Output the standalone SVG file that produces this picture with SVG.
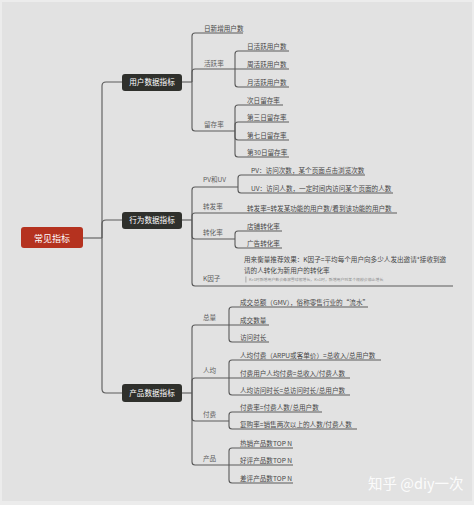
<svg xmlns="http://www.w3.org/2000/svg" width="474" height="505" viewBox="0 0 474 505">
<defs>
<style>
.ln{fill:none;stroke:#5a5a5a;stroke-width:1.1}
.t{font-family:"Noto Sans CJK SC","Noto Sans",sans-serif;font-size:6.6px;fill:#474747}
.g{font-family:"Noto Sans CJK SC","Noto Sans",sans-serif;font-size:6.6px;fill:#5e5e5e}
.bx{fill:#2f302c}
.bt{font-family:"Noto Sans CJK SC","Noto Sans",sans-serif;font-size:7.6px;fill:#ffffff;text-anchor:middle}
.note{font-family:"Noto Sans CJK SC","Noto Sans",sans-serif;font-size:3.9px;fill:#8a8a8a}
</style>
</defs>
<rect x="0" y="0" width="474" height="505" fill="#ececec"/>
<rect x="2" y="2" width="470" height="499" fill="#e2e2e2"/>

<g id="connectors">
<path class="ln" d="M83,238 H102"/>
<path class="ln" d="M102,238 V86 Q102,82 106,82 H122"/>
<path class="ln" d="M102,238 V224 Q102,220 106,220 H122"/>
<path class="ln" d="M102,238 V389 Q102,393 106,393 H122"/>
<!-- user -->
<path class="ln" d="M182,82 H192"/>
<path class="ln" d="M192,82 V36 Q192,33 195,33 H243"/>
<path class="ln" d="M192,82 V72 Q192,69 195,69 H235"/>
<path class="ln" d="M192,82 V128 Q192,131 195,131 H235"/>
<path class="ln" d="M235,69 V54 Q235,51 238,51 H289"/>
<path class="ln" d="M235,69 H289"/>
<path class="ln" d="M235,69 V84 Q235,87 238,87 H289"/>
<path class="ln" d="M235,131 V108 Q235,105 238,105 H283"/>
<path class="ln" d="M235,131 V125 Q235,122 238,122 H289"/>
<path class="ln" d="M235,131 V137 Q235,140 238,140 H289"/>
<path class="ln" d="M235,131 V154 Q235,157 238,157 H289"/>
<!-- behavior -->
<path class="ln" d="M182,220 H192"/>
<path class="ln" d="M192,220 V190 Q192,187 195,187 H238"/>
<path class="ln" d="M192,220 V216 Q192,213 195,213 H397"/>
<path class="ln" d="M192,220 V236 Q192,239 195,239 H235"/>
<path class="ln" d="M192,220 V283 Q192,286 195,286 H453"/>
<path class="ln" d="M238,187 V178 Q238,175 241,175 H365"/>
<path class="ln" d="M238,187 V190 Q238,193 241,193 H393"/>
<path class="ln" d="M235,239 V234 Q235,231 238,231 H282"/>
<path class="ln" d="M235,239 V245 Q235,248 238,248 H282"/>
<!-- product -->
<path class="ln" d="M182,393 H192"/>
<path class="ln" d="M192,393 V328 Q192,325 195,325 H229"/>
<path class="ln" d="M192,393 V381 Q192,378 195,378 H229"/>
<path class="ln" d="M192,393 V418 Q192,421 195,421 H229"/>
<path class="ln" d="M192,393 V462 Q192,465 195,465 H229"/>
<path class="ln" d="M229,325 V310 Q229,307 232,307 H368"/>
<path class="ln" d="M229,325 H269"/>
<path class="ln" d="M229,325 V339 Q229,342 232,342 H269"/>
<path class="ln" d="M229,378 V363 Q229,360 232,360 H381"/>
<path class="ln" d="M229,378 H350"/>
<path class="ln" d="M229,378 V392 Q229,395 232,395 H350"/>
<path class="ln" d="M229,421 V415 Q229,412 232,412 H322"/>
<path class="ln" d="M229,421 V426 Q229,429 232,429 H357"/>
<path class="ln" d="M229,465 V451 Q229,448 232,448 H293"/>
<path class="ln" d="M229,465 H293"/>
<path class="ln" d="M229,465 V480 Q229,483 232,483 H293"/>
</g>

<g id="root">
<rect x="21" y="227" width="62" height="21" rx="3" fill="#b5321f"/>
<text x="52" y="241.5" font-family="Noto Sans CJK SC, Noto Sans, sans-serif" font-size="9" fill="#ffffff" text-anchor="middle">常见指标</text>
</g>

<g id="user">
<rect class="bx" x="122" y="74" width="60" height="17" rx="3"/>
<text class="bt" x="152" y="85">用户数据指标</text>
</g>
<g id="user-children">
<text class="t" x="204" y="30.5">日新增用户数</text>
<text class="g" x="204" y="66">活跃率</text>
<text class="t" x="247" y="48.5">日活跃用户数</text>
<text class="t" x="247" y="66.5">周活跃用户数</text>
<text class="t" x="247" y="84.5">月活跃用户数</text>
<text class="g" x="204" y="127">留存率</text>
<text class="t" x="247" y="102.5">次日留存率</text>
<text class="t" x="247" y="119.5">第三日留存率</text>
<text class="t" x="247" y="137.5">第七日留存率</text>
<text class="t" x="247" y="154.5">第30日留存率</text>
</g>

<g id="behavior">
<rect class="bx" x="122" y="212" width="60" height="17" rx="3"/>
<text class="bt" x="152" y="223">行为数据指标</text>
</g>
<g id="behavior-children">
<text class="g" x="203" y="182">PV和UV</text>
<text class="t" x="251" y="172.5">PV：访问次数，某个页面点击浏览次数</text>
<text class="t" x="251" y="190.5">UV：访问人数，一定时间内访问某个页面的人数</text>
<text class="g" x="203" y="209">转发率</text>
<text class="t" x="247" y="210.5">转发率=转发某功能的用户数/看到该功能的用户数</text>
<text class="g" x="203" y="235">转化率</text>
<text class="t" x="247" y="228.5">店铺转化率</text>
<text class="t" x="247" y="245.5">广告转化率</text>
<text class="g" x="203" y="281">K因子</text>
<text class="t" x="244" y="262">用来衡量推荐效果：K因子=平均每个用户向多少人发出邀请*接收到邀</text>
<text class="t" x="244" y="272.5">请的人转化为新用户的转化率</text>
<rect x="245.5" y="276.5" width="0.8" height="6" fill="#9a9a9a"/>
<text class="note" x="249" y="281.2">K&gt;1时新增用户数会像滚雪球般增长，K&lt;1时，新增用户到某个规模会停止增长</text>
</g>

<g id="product">
<rect class="bx" x="122" y="384" width="60" height="18" rx="3"/>
<text class="bt" x="152" y="395.5">产品数据指标</text>
</g>
<g id="product-children">
<text class="g" x="203" y="320">总量</text>
<text class="t" x="240" y="304.5">成交总额（GMV），俗称零售行业的“流水”</text>
<text class="t" x="240" y="322.5">成交数量</text>
<text class="t" x="240" y="339.5">访问时长</text>
<text class="g" x="203" y="373">人均</text>
<text class="t" x="240" y="357.5">人均付费（ARPU或客单价）=总收入/总用户数</text>
<text class="t" x="240" y="375.5">付费用户人均付费=总收入/付费人数</text>
<text class="t" x="240" y="392.5">人均访问时长=总访问时长/总用户数</text>
<text class="g" x="203" y="417">付费</text>
<text class="t" x="240" y="409.5">付费率=付费人数/总用户数</text>
<text class="t" x="240" y="426.5">复购率=销售两次以上的人数/付费人数</text>
<text class="g" x="203" y="461">产品</text>
<text class="t" x="240" y="445.5">热销产品数TOP N</text>
<text class="t" x="240" y="462.5">好评产品数TOP N</text>
<text class="t" x="240" y="480.5">差评产品数TOP N</text>
</g>

<text x="368" y="489" font-family="Noto Sans CJK SC, Noto Sans, sans-serif" font-size="14.5" fill="#ffffff" fill-opacity="0.9">知乎 @diy一次</text>
</svg>
